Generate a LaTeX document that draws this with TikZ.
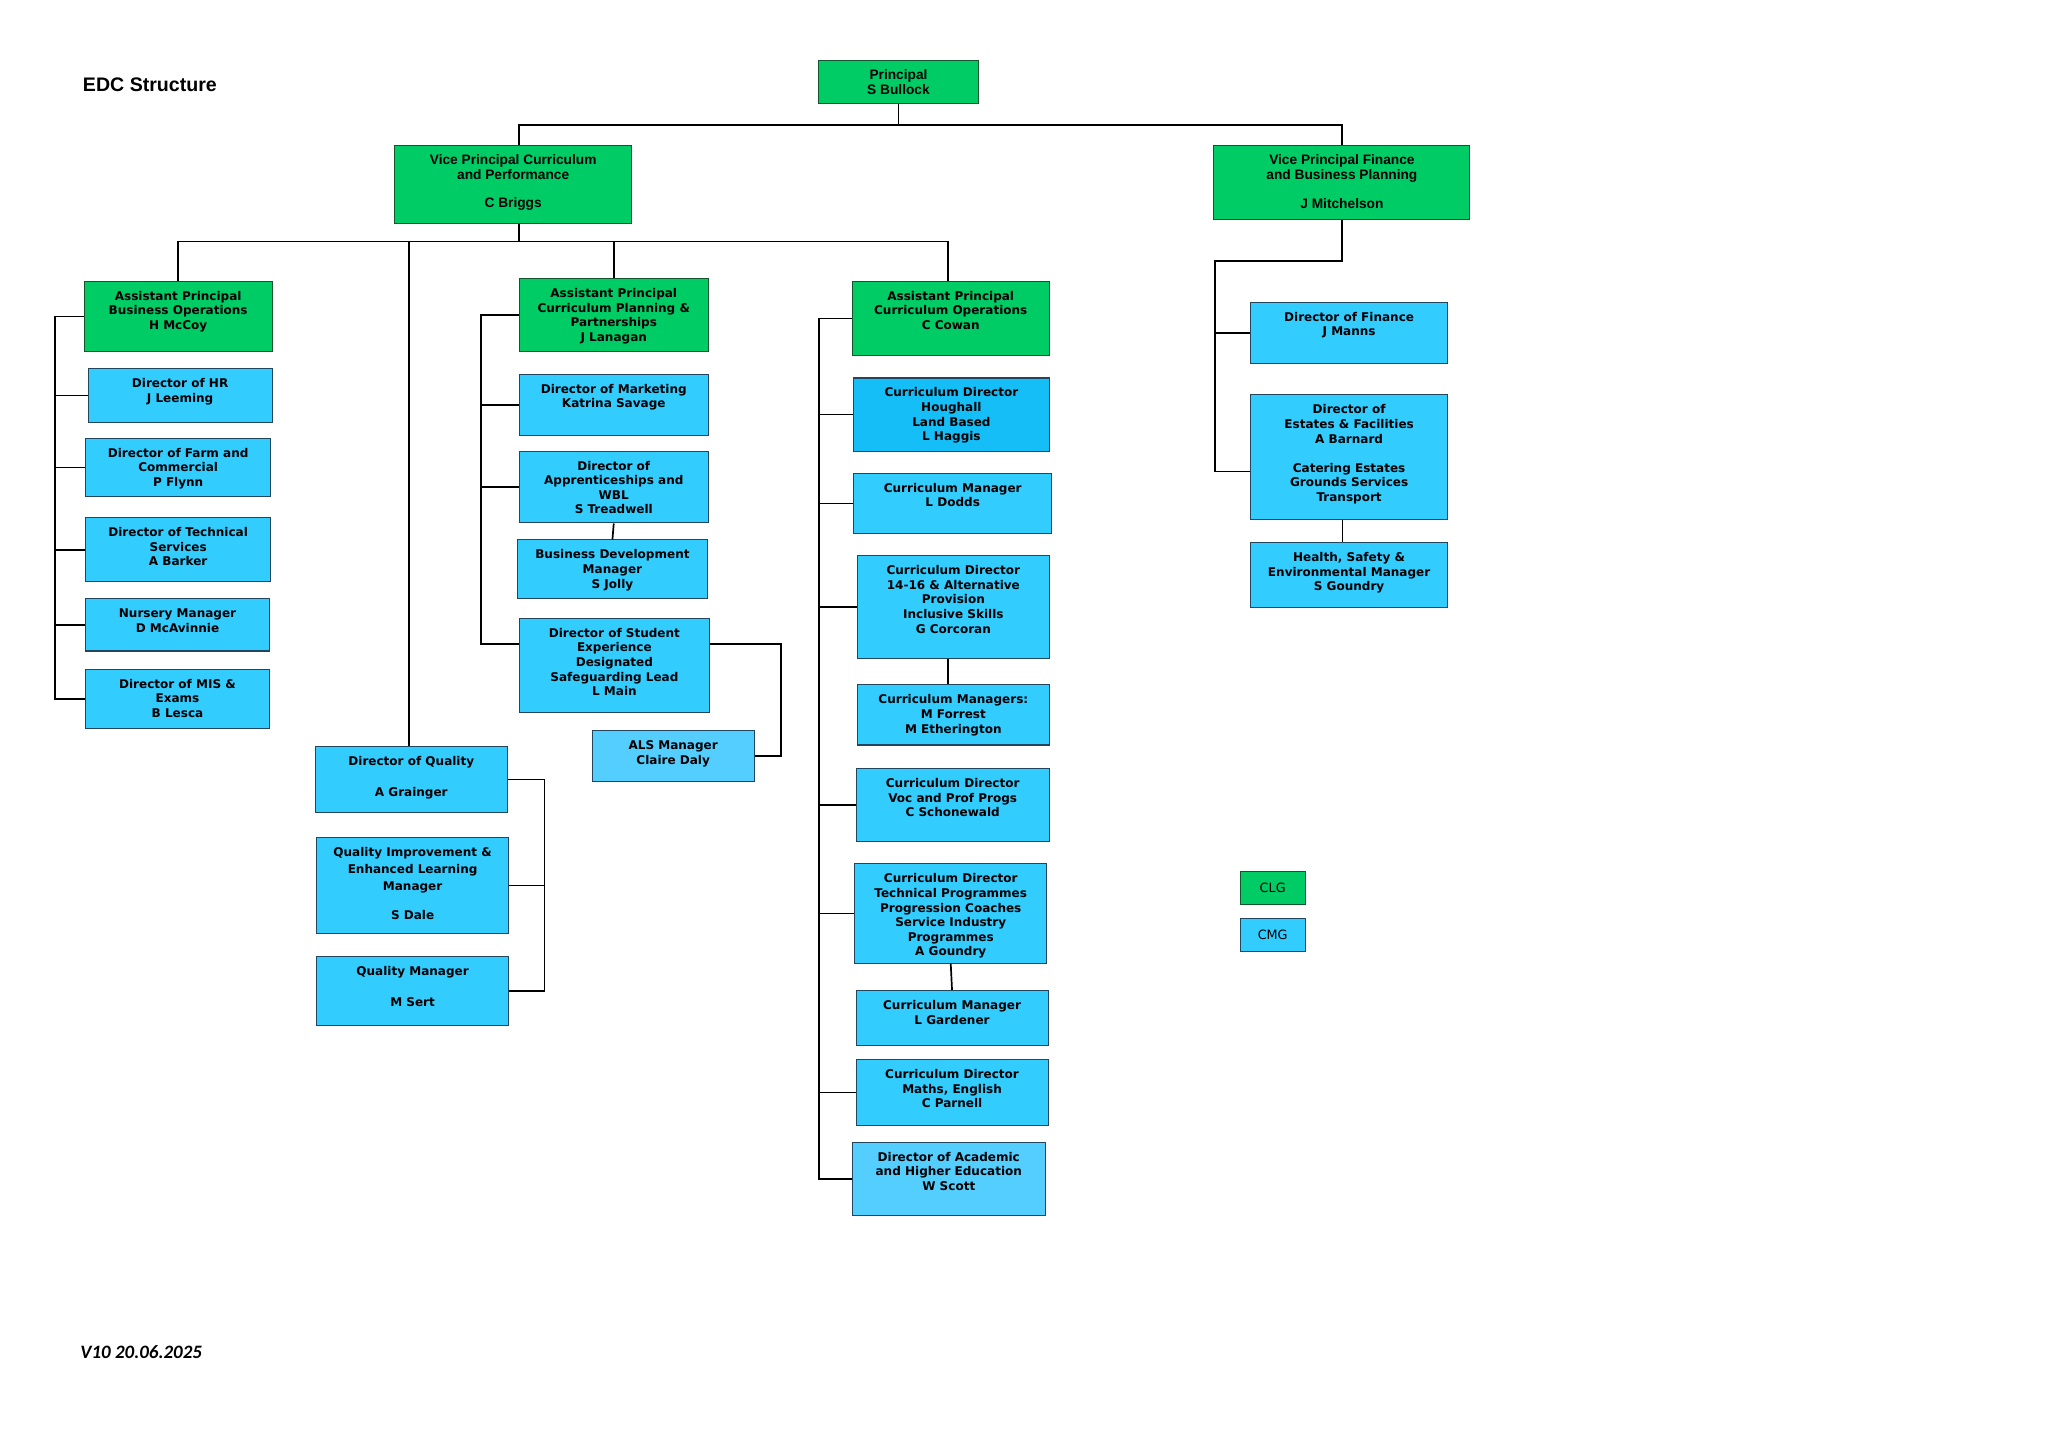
\documentclass[tikz,border=0pt]{standalone}
\usepackage{fontspec}
\setmainfont{DejaVu Sans}
\newfontfamily\headfont{Liberation Sans}
\newfontfamily\notefont{Carlito}
\usetikzlibrary{positioning}

\definecolor{clggreen}{RGB}{0,204,102}
\definecolor{cmgblue}{RGB}{51,204,255}
\definecolor{cmgdeep}{RGB}{22,190,248}
\definecolor{cmgpale}{RGB}{84,206,255}
\definecolor{greenedge}{RGB}{20,85,45}
\definecolor{blueedge}{RGB}{35,70,95}

% box text: width, height, lines (top aligned)
\newcommand{\boxtext}[3]{\parbox[c][#2pt][t]{#1pt}{\centering\rule{0pt}{14.5pt}#3\par}}

\begin{document}
\begin{tikzpicture}[
  x=1pt, y=-1pt,
  clg/.style={draw=greenedge, fill=clggreen, line width=0.8pt, inner sep=0pt, anchor=north west, font=\bfseries\fontsize{9.2}{11.2}\selectfont},
  topbox/.style={clg, font=\headfont\bfseries\fontsize{10.5}{11.8}\selectfont},
  cmg/.style={clg, draw=blueedge, fill=cmgblue},
  cmgdark/.style={cmg, fill=cmgdeep},
  cmglight/.style={cmg, fill=cmgpale},
  conn/.style={line width=1.3pt}
]
\fill[white] (0,0) rectangle (1568,1108);
\useasboundingbox (0,0) rectangle (1568,1108);

\node[anchor=west, font=\headfont\bfseries\fontsize{15}{18}\selectfont] (title) at (60,65) {EDC Structure};
\node[anchor=west, font=\notefont\bfseries\itshape\fontsize{14.5}{17}\selectfont] (version) at (58,1035) {V10 20.06.2025};

% top level
\node[topbox] (prin) at (626,46) {\boxtext{123}{33}{Principal\\S Bullock}};
\node[topbox] (vpc) at (302,111) {\boxtext{181}{60}{Vice Principal Curriculum\\and Performance\\[9pt]C Briggs}};
\node[topbox] (vpf) at (929,111) {\boxtext{196}{57}{Vice Principal Finance\\and Business Planning\\[10pt]J Mitchelson}};

% business operations
\node[clg] (apb) at (64,215) {\boxtext{144}{54}{Assistant Principal\\Business Operations\\H McCoy}};
\node[cmg] (hr) at (67,282) {\boxtext{141}{41}{Director of HR\\J Leeming}};
\node[cmg] (farm) at (65,335) {\boxtext{142}{45}{Director of Farm and\\Commercial\\P Flynn}};
\node[cmg] (tech) at (65,396) {\boxtext{142}{49}{Director of Technical\\Services\\A Barker}};
\node[cmg] (nurs) at (65,458) {\boxtext{141}{40}{Nursery Manager\\D McAvinnie}};
\node[cmg] (mis) at (65,512) {\boxtext{141}{45}{Director of MIS \&\\Exams\\B Lesca}};

% quality
\node[cmg] (doq) at (241,571) {\boxtext{147}{51}{Director of Quality\\[12.5pt]A Grainger}};
\node[cmg] (qi) at (242,641) {\boxtext{147}{73}{\fontsize{9.2}{12.8}\selectfont Quality Improvement \&\\Enhanced Learning\\Manager\\[10pt]S Dale}};
\node[cmg] (qm) at (242,732) {\boxtext{147}{53}{Quality Manager\\[12.5pt]M Sert}};

% curriculum planning
\node[clg] (app) at (397,213) {\boxtext{145}{56}{Assistant Principal\\Curriculum Planning \&\\Partnerships\\J Lanagan}};
\node[cmg] (mkt) at (397,286) {\boxtext{145}{47}{Director of Marketing\\Katrina Savage}};
\node[cmg] (appr) at (397,345) {\boxtext{145}{55}{Director of\\Apprenticeships and\\WBL\\S Treadwell}};
\node[cmg] (bdm) at (396,413) {\boxtext{145}{45}{Business Development\\Manager\\S Jolly}};
\node[cmg] (stu) at (397,473) {\boxtext{146}{72}{Director of Student\\Experience\\Designated\\Safeguarding Lead\\L Main}};
\node[cmglight] (als) at (453,559) {\boxtext{124}{39}{ALS Manager\\Claire Daly}};

% curriculum operations
\node[clg] (apo) at (652,215) {\boxtext{151}{57}{Assistant Principal\\Curriculum Operations\\C Cowan}};
\node[cmgdark] (hgh) at (653,289) {\boxtext{150}{56}{Curriculum Director\\Houghall\\Land Based\\L Haggis}};
\node[cmg] (dod) at (653,362) {\boxtext{152}{46}{Curriculum Manager\\L Dodds}};
\node[cmg] (cor) at (656,425) {\boxtext{147}{79}{Curriculum Director\\14-16 \& Alternative\\Provision\\Inclusive Skills\\G Corcoran}};
\node[cmg] (cmm) at (656,524) {\boxtext{147}{46}{Curriculum Managers:\\M Forrest\\M Etherington}};
\node[cmg] (sch) at (655,588) {\boxtext{148}{56}{Curriculum Director\\Voc and Prof Progs\\C Schonewald}};
\node[cmg] (tpr) at (654,661) {\boxtext{147}{76}{Curriculum Director\\Technical Programmes\\Progression Coaches\\Service Industry\\Programmes\\A Goundry}};
\node[cmg] (gar) at (655,758) {\boxtext{147}{42}{Curriculum Manager\\L Gardener}};
\node[cmg] (par) at (655,811) {\boxtext{147}{50}{Curriculum Director\\Maths, English\\C Parnell}};
\node[cmglight] (sco) at (652,874) {\boxtext{148}{56}{Director of Academic\\and Higher Education\\W Scott}};

% finance
\node[cmg] (fin) at (957,231) {\boxtext{151}{47}{Director of Finance\\J Manns}};
\node[cmg] (est) at (957,302) {\boxtext{151}{95}{Director of\\Estates \& Facilities\\A Barnard\\[11pt]Catering Estates\\Grounds Services\\Transport}};
\node[cmg] (hse) at (957,415) {\boxtext{151}{50}{Health, Safety \&\\Environmental Manager\\S Goundry}};

% key
\node[clg, font=\fontsize{9.8}{11}\selectfont, minimum width=50pt, minimum height=25pt] (clgkey) at (949,667) {CLG};
\node[cmg, font=\fontsize{9.8}{11}\selectfont, minimum width=50pt, minimum height=25pt] (cmgkey) at (949,703) {CMG};

% connectors
\draw[conn] (prin.south) -- ++(0,16) coordinate (topbar);
\draw[conn] ([xshift=4.5pt]vpc.north) |- (topbar) -| (vpf.north);

\draw[conn] ([xshift=4.5pt]vpc.south) -- ++(0,13) coordinate (midbar);
\draw[conn] (apb.north) |- (midbar) -| ([xshift=-2pt]apo.north);
\draw[conn] (app.north) -- (app.north |- midbar);
\draw[conn] ([xshift=-2pt]doq.north) -- ([xshift=-2pt]doq.north |- midbar);

\draw[conn] (apb.west) -- ++(-22,0) coordinate (busa) |- (mis.west);
\foreach \nd in {hr,farm,tech,nurs} \draw[conn] (\nd.west) -- (busa |- \nd.west);

\draw[conn] (doq.east) -- ++(28,0) coordinate (busq) |- (qm.east);
\draw[conn] (qi.east) -- (busq |- qi.east);

\draw[conn] (app.west) -- ++(-29,0) coordinate (busb) |- ([yshift=-20pt]stu.north west);
\foreach \nd in {mkt,appr} \draw[conn] (\nd.west) -- (busb |- \nd.west);
\draw[conn] (appr.south) -- (bdm.north);
\draw[conn] ([yshift=-20pt]stu.north east) -- ++(54,0) |- (als.east);

\draw[conn] (apo.west) -- ++(-25,0) coordinate (busc) |- (sco.west);
\foreach \nd in {hgh,dod,cor,sch,tpr,par} \draw[conn] (\nd.west) -- (busc |- \nd.west);
\draw[conn] ([xshift=-4pt]cor.south) -- ([xshift=-4pt]cmm.north);
\draw[conn] (tpr.south) -- (gar.north);

\draw[conn] (vpf.south) -- ++(0,31) -| ([xshift=-27pt,yshift=-59pt]est.north west) -- ([yshift=-59pt]est.north west);
\draw[conn] (fin.west) -- ++(-27,0);
\draw[conn] ([xshift=-5pt]est.south) -- ([xshift=-5pt]hse.north);

\end{tikzpicture}
\end{document}
